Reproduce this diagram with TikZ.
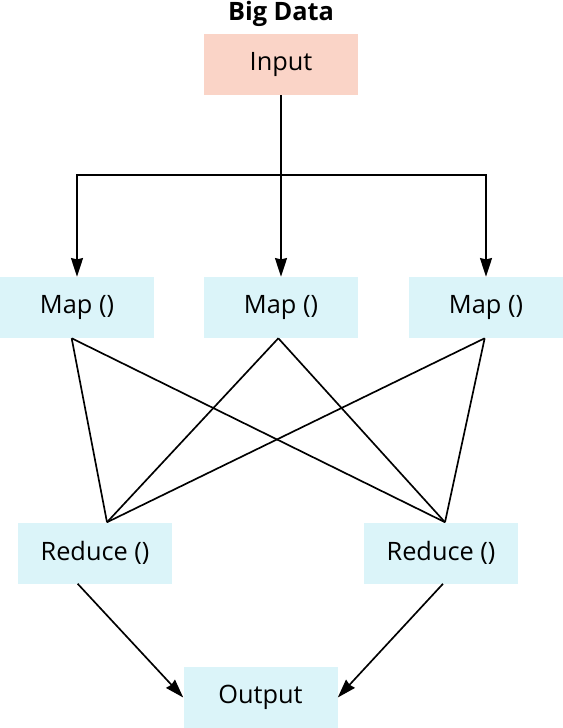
\documentclass[tikz,border=0pt]{standalone}
\usepackage{fontspec}
\setmainfont{Open Sans}
\usetikzlibrary{arrows.meta,positioning}

\begin{document}
\begin{tikzpicture}
[
x=0.75pt, y=-0.75pt,
inbox/.style={fill=inputred, minimum width=115.5pt, minimum height=45.75pt, inner sep=0pt, font=\fontsize{19}{22}\selectfont},
workbox/.style={fill=workcyan, minimum width=115.5pt, minimum height=45.75pt, inner sep=0pt, font=\fontsize{19}{22}\selectfont},
link/.style={line width=1.25pt},
arrow/.style={line width=1.25pt, -{Stealth[length=14pt, width=9pt, inset=1pt]}},
]
\definecolor{inputred}{RGB}{250,212,199}
\definecolor{workcyan}{RGB}{219,244,249}
\useasboundingbox (0,0) rectangle (563,728);
\node[font=\fontsize{19}{22}\selectfont\bfseries] (title) at (281,14) {Big Data};
\node[inbox] (input) at (281,64.5) {Input};
\node[workbox] (mapL) at (77,307.5) {Map ()};
\node[workbox] (mapM) at (281,307.5) {Map ()};
\node[workbox] (mapR) at (486,307.5) {Map ()};
\node[workbox] (redL) at (95,553) {Reduce ()};
\node[workbox] (redR) at (441,553) {Reduce ()};
\node[workbox] (output) at (260.5,697.5) {Output};
\coordinate (split) at (281,175);
\draw[arrow] (input.south) -- (split) -| (mapL.north);
\draw[arrow] (input.south) -- (split) -- (mapM.north);
\draw[arrow] (input.south) -- (split) -| (mapR.north);
\draw[link] ([xshift=-4pt]mapL.south) -- ([xshift=9pt]redL.north);
\draw[link] ([xshift=-4pt]mapL.south) -- ([xshift=3pt]redR.north);
\draw[link] ([xshift=-2pt]mapM.south) -- ([xshift=9pt]redL.north);
\draw[link] ([xshift=-2pt]mapM.south) -- ([xshift=3pt]redR.north);
\draw[link] ([xshift=-1pt]mapR.south) -- ([xshift=9pt]redL.north);
\draw[link] ([xshift=-1pt]mapR.south) -- ([xshift=3pt]redR.north);
\draw[arrow] ([xshift=-13pt]redL.south) -- (output.west);
\draw[arrow] ([xshift=1.5pt]redR.south) -- (output.east);
\end{tikzpicture}
\end{document}
